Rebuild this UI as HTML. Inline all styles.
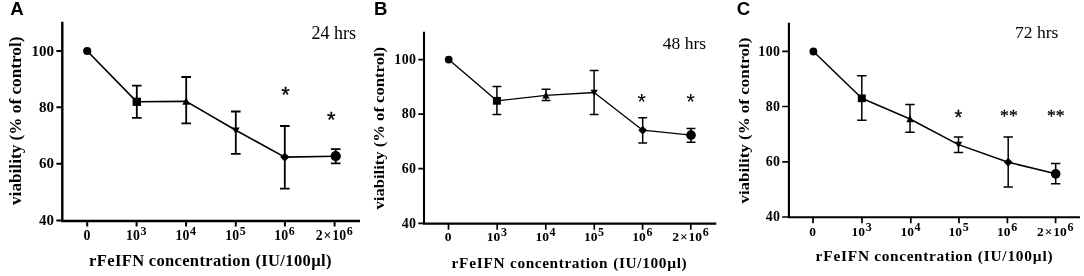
<!DOCTYPE html>
<html lang="en"><head><meta charset="utf-8"><title>rFeIFN viability figure</title>
<style>html,body{margin:0;padding:0;background:#fff}body{width:1084px;height:276px;overflow:hidden}svg{display:block}text{fill:#000}</style>
</head><body>
<svg width="1084" height="276" viewBox="0 0 1084 276">
<rect width="1084" height="276" fill="#fff"/>
<g>
<text x="10.2" y="14.9" font-family='"Liberation Sans", sans-serif' font-weight="700" font-size="18.6" fill="#000">A</text>
<path d="M62.3 21.7V221H360" fill="none" stroke="#000" stroke-width="2.4" stroke-linejoin="miter"/>
<path d="M56.4 51H62.3M56.4 107.3H62.3M56.4 163.7H62.3M56.4 220.6H62.3M87.2 221V226.5M136.6 221V226.5M186.1 221V226.5M235.8 221V226.5M284.9 221V226.5M334.6 221V226.5" fill="none" stroke="#000" stroke-width="2.0"/>
<text x="53.9" y="55.7" letter-spacing="0" text-anchor="end" font-family='"Liberation Serif", serif' font-weight="700" font-size="15">100</text>
<text x="53.9" y="112" letter-spacing="0" text-anchor="end" font-family='"Liberation Serif", serif' font-weight="700" font-size="15">80</text>
<text x="53.9" y="168.4" letter-spacing="0" text-anchor="end" font-family='"Liberation Serif", serif' font-weight="700" font-size="15">60</text>
<text x="53.9" y="225.3" letter-spacing="0" text-anchor="end" font-family='"Liberation Serif", serif' font-weight="700" font-size="15">40</text>
<text x="86.9" y="239.5" text-anchor="middle" font-family='"Liberation Serif", serif' font-weight="700" font-size="13.8">0</text>
<text x="136.3" y="239.5" text-anchor="middle" font-family='"Liberation Serif", serif' font-weight="700" font-size="13.8">10<tspan dy="-4.9" dx="0.7" font-size="12">3</tspan></text>
<text x="185.8" y="239.5" text-anchor="middle" font-family='"Liberation Serif", serif' font-weight="700" font-size="13.8">10<tspan dy="-4.9" dx="0.7" font-size="12">4</tspan></text>
<text x="235.5" y="239.5" text-anchor="middle" font-family='"Liberation Serif", serif' font-weight="700" font-size="13.8">10<tspan dy="-4.9" dx="0.7" font-size="12">5</tspan></text>
<text x="284.6" y="239.5" text-anchor="middle" font-family='"Liberation Serif", serif' font-weight="700" font-size="13.8">10<tspan dy="-4.9" dx="0.7" font-size="12">6</tspan></text>
<text x="334.3" y="239.5" text-anchor="middle" font-family='"Liberation Serif", serif' font-weight="700" font-size="13.8">2<tspan dx="0.9">×</tspan><tspan dx="0.9">10</tspan><tspan dy="-4.9" dx="0.7" font-size="12">6</tspan></text>
<text transform="translate(88.9 265.6) scale(1.035 1)" textLength="53.53" lengthAdjust="spacing" font-family='"Liberation Serif", serif' font-weight="700" font-size="16">rFeIFN</text>
<text transform="translate(148.7 265.6) scale(1.035 1)" textLength="97.97" lengthAdjust="spacing" font-family='"Liberation Serif", serif' font-weight="700" font-size="16">concentration</text>
<text transform="translate(255.4 265.6) scale(1.035 1)" textLength="73.53" lengthAdjust="spacing" font-family='"Liberation Serif", serif' font-weight="700" font-size="16">(IU/100µl)</text>
<text transform="translate(20.8 120.8) rotate(-90)" text-anchor="middle" textLength="168.4" lengthAdjust="spacingAndGlyphs" font-family='"Liberation Serif", serif' font-weight="700" font-size="17.2">viability (% of control)</text>
<text x="311.5" y="38.9" font-family='"Liberation Serif", serif' font-size="18">24 hrs</text>
<text x="285.5" y="102.34" text-anchor="middle" font-family='"Liberation Sans", sans-serif' stroke="#000" stroke-width="0.3" font-size="22">*</text>
<text x="331.3" y="126.74" text-anchor="middle" font-family='"Liberation Sans", sans-serif' stroke="#000" stroke-width="0.3" font-size="22">*</text>
<path d="M87.2 51L136.8 101.8L186.2 101.4L235.8 130.3L284.8 157.1L335.7 156.2" fill="none" stroke="#000" stroke-width="1.65" stroke-linejoin="round"/>
<path d="M136.8 85.7V117.8M132 85.7H141.6M132 117.8H141.6M186.2 77V123.3M181.4 77H191M181.4 123.3H191M235.8 111.5V153.8M231 111.5H240.6M231 153.8H240.6M284.8 126V188.7M280 126H289.6M280 188.7H289.6M335.7 149.1V163.3M330.9 149.1H340.5M330.9 163.3H340.5" fill="none" stroke="#000" stroke-width="1.8"/>
<circle cx="87.2" cy="51" r="4.1"/>
<rect x="132.6" y="97.7" width="8.4" height="8.2"/>
<path d="M186.2 97.3L190 104.7H182.4Z"/>
<path d="M235.8 133.9L239.7 127.4H231.9Z"/>
<path d="M284.8 152.5L289.4 157.1L284.8 161.7L280.2 157.1Z"/>
<circle cx="335.7" cy="156.2" r="5.1"/>
</g>
<g>
<text x="374" y="14.8" font-family='"Liberation Sans", sans-serif' font-weight="700" font-size="18.6" fill="#000">B</text>
<path d="M424 31.7V223.6H716.3" fill="none" stroke="#000" stroke-width="2.1" stroke-linejoin="miter"/>
<path d="M418.3 59.6H424M418.3 114.1H424M418.3 168.7H424M418.3 223.3H424M448.5 223.6V229.8M497.2 223.6V229.8M545.8 223.6V229.8M594.3 223.6V229.8M642.6 223.6V229.8M690.8 223.6V229.8" fill="none" stroke="#000" stroke-width="1.7"/>
<text x="416.4" y="63.9" letter-spacing="0.4" text-anchor="end" font-family='"Liberation Serif", serif' font-weight="700" font-size="13.9">100</text>
<text x="416.4" y="118.4" letter-spacing="0.4" text-anchor="end" font-family='"Liberation Serif", serif' font-weight="700" font-size="13.9">80</text>
<text x="416.4" y="173" letter-spacing="0.4" text-anchor="end" font-family='"Liberation Serif", serif' font-weight="700" font-size="13.9">60</text>
<text x="416.4" y="227.6" letter-spacing="0.4" text-anchor="end" font-family='"Liberation Serif", serif' font-weight="700" font-size="13.9">40</text>
<text x="448.2" y="241.3" text-anchor="middle" font-family='"Liberation Serif", serif' font-weight="700" font-size="13.5">0</text>
<text x="496.9" y="241.3" text-anchor="middle" font-family='"Liberation Serif", serif' font-weight="700" font-size="13.5">10<tspan dy="-4.9" dx="0.7" font-size="12">3</tspan></text>
<text x="545.5" y="241.3" text-anchor="middle" font-family='"Liberation Serif", serif' font-weight="700" font-size="13.5">10<tspan dy="-4.9" dx="0.7" font-size="12">4</tspan></text>
<text x="594" y="241.3" text-anchor="middle" font-family='"Liberation Serif", serif' font-weight="700" font-size="13.5">10<tspan dy="-4.9" dx="0.7" font-size="12">5</tspan></text>
<text x="642.3" y="241.3" text-anchor="middle" font-family='"Liberation Serif", serif' font-weight="700" font-size="13.5">10<tspan dy="-4.9" dx="0.7" font-size="12">6</tspan></text>
<text x="690.5" y="241.3" text-anchor="middle" font-family='"Liberation Serif", serif' font-weight="700" font-size="13.5">2<tspan dx="0.9">×</tspan><tspan dx="0.9">10</tspan><tspan dy="-4.9" dx="0.7" font-size="12">6</tspan></text>
<text transform="translate(451.5 267.6) scale(1.06 1)" textLength="50.09" lengthAdjust="spacing" font-family='"Liberation Serif", serif' font-weight="700" font-size="14.5">rFeIFN</text>
<text transform="translate(510 267.6) scale(1.06 1)" textLength="91.98" lengthAdjust="spacing" font-family='"Liberation Serif", serif' font-weight="700" font-size="14.5">concentration</text>
<text transform="translate(613.2 267.6) scale(1.06 1)" textLength="69.34" lengthAdjust="spacing" font-family='"Liberation Serif", serif' font-weight="700" font-size="14.5">(IU/100µl)</text>
<text transform="translate(384.3 128.2) rotate(-90)" text-anchor="middle" textLength="162.6" lengthAdjust="spacingAndGlyphs" font-family='"Liberation Serif", serif' font-weight="700" font-size="15.3">viability (% of control)</text>
<text x="662.8" y="48.7" font-family='"Liberation Serif", serif' font-size="17.5">48 hrs</text>
<text x="641.7" y="109.48" text-anchor="middle" font-family='"Liberation Sans", sans-serif' stroke="#000" stroke-width="0.1" font-size="21.5">*</text>
<text x="690.7" y="109.48" text-anchor="middle" font-family='"Liberation Sans", sans-serif' stroke="#000" stroke-width="0.1" font-size="21.5">*</text>
<path d="M448.7 59.6L496.9 100.8L546 95.3L594.1 92.5L642.7 130.2L691 135.2" fill="none" stroke="#000" stroke-width="1.35" stroke-linejoin="round"/>
<path d="M496.9 86.4V114.6M492.5 86.4H501.3M492.5 114.6H501.3M546 89.3V100.4M541.6 89.3H550.4M541.6 100.4H550.4M594.1 70.4V114.5M589.7 70.4H598.5M589.7 114.5H598.5M642.7 117.8V142.9M638.3 117.8H647.1M638.3 142.9H647.1M691 128.5V142.3M686.6 128.5H695.4M686.6 142.3H695.4" fill="none" stroke="#000" stroke-width="1.5"/>
<circle cx="448.7" cy="59.6" r="3.89"/>
<rect x="492.91" y="96.91" width="7.98" height="7.79"/>
<path d="M546 91.41L549.61 98.44H542.39Z"/>
<path d="M594.1 95.92L597.81 89.75H590.39Z"/>
<path d="M642.7 125.83L647.07 130.2L642.7 134.57L638.33 130.2Z"/>
<circle cx="691" cy="135.2" r="4.84"/>
</g>
<g>
<text x="736.8" y="15.1" font-family='"Liberation Sans", sans-serif' font-weight="700" font-size="18.6" fill="#000">C</text>
<path d="M788.9 22.7V217.2H1080" fill="none" stroke="#000" stroke-width="2.1" stroke-linejoin="miter"/>
<path d="M782.2 51.3H788.9M782.2 106.5H788.9M782.2 161.8H788.9M782.2 217H788.9M813 217.2V223.3M862 217.2V223.3M910.8 217.2V223.3M959 217.2V223.3M1007.4 217.2V223.3M1055.6 217.2V223.3" fill="none" stroke="#000" stroke-width="1.7"/>
<text x="780.4" y="55.5" letter-spacing="0.4" text-anchor="end" font-family='"Liberation Serif", serif' font-weight="700" font-size="13.9">100</text>
<text x="780.4" y="110.7" letter-spacing="0.4" text-anchor="end" font-family='"Liberation Serif", serif' font-weight="700" font-size="13.9">80</text>
<text x="780.4" y="166" letter-spacing="0.4" text-anchor="end" font-family='"Liberation Serif", serif' font-weight="700" font-size="13.9">60</text>
<text x="780.4" y="221.2" letter-spacing="0.4" text-anchor="end" font-family='"Liberation Serif", serif' font-weight="700" font-size="13.9">40</text>
<text x="812.7" y="235.8" text-anchor="middle" font-family='"Liberation Serif", serif' font-weight="700" font-size="13.5">0</text>
<text x="861.7" y="235.8" text-anchor="middle" font-family='"Liberation Serif", serif' font-weight="700" font-size="13.5">10<tspan dy="-4.9" dx="0.7" font-size="12">3</tspan></text>
<text x="910.5" y="235.8" text-anchor="middle" font-family='"Liberation Serif", serif' font-weight="700" font-size="13.5">10<tspan dy="-4.9" dx="0.7" font-size="12">4</tspan></text>
<text x="958.7" y="235.8" text-anchor="middle" font-family='"Liberation Serif", serif' font-weight="700" font-size="13.5">10<tspan dy="-4.9" dx="0.7" font-size="12">5</tspan></text>
<text x="1007.1" y="235.8" text-anchor="middle" font-family='"Liberation Serif", serif' font-weight="700" font-size="13.5">10<tspan dy="-4.9" dx="0.7" font-size="12">6</tspan></text>
<text x="1055.3" y="235.8" text-anchor="middle" font-family='"Liberation Serif", serif' font-weight="700" font-size="13.5">2<tspan dx="0.9">×</tspan><tspan dx="0.9">10</tspan><tspan dy="-4.9" dx="0.7" font-size="12">6</tspan></text>
<text transform="translate(815.6 261) scale(1.06 1)" textLength="50.47" lengthAdjust="spacing" font-family='"Liberation Serif", serif' font-weight="700" font-size="14.5">rFeIFN</text>
<text transform="translate(874.3 261) scale(1.06 1)" textLength="92.36" lengthAdjust="spacing" font-family='"Liberation Serif", serif' font-weight="700" font-size="14.5">concentration</text>
<text transform="translate(977.8 261) scale(1.06 1)" textLength="70.57" lengthAdjust="spacing" font-family='"Liberation Serif", serif' font-weight="700" font-size="14.5">(IU/100µl)</text>
<text transform="translate(749.4 120.6) rotate(-90)" text-anchor="middle" textLength="166" lengthAdjust="spacingAndGlyphs" font-family='"Liberation Serif", serif' font-weight="700" font-size="15.4">viability (% of control)</text>
<text x="1015" y="38.3" font-family='"Liberation Serif", serif' font-size="17.5">72 hrs</text>
<text x="958.3" y="123.9" text-anchor="middle" font-family='"Liberation Sans", sans-serif' stroke="#000" stroke-width="0.3" font-size="20">*</text>
<text x="1008.9" y="121.3" text-anchor="middle" font-family='"Liberation Serif", serif' stroke="#000" stroke-width="0.3" font-size="17.7">**</text>
<text x="1055.8" y="121.3" text-anchor="middle" font-family='"Liberation Serif", serif' stroke="#000" stroke-width="0.3" font-size="17.7">**</text>
<path d="M813.4 51.5L861.8 98.3L910 119L958.5 144.6L1008.2 162.2L1055.7 173.8" fill="none" stroke="#000" stroke-width="1.5" stroke-linejoin="round"/>
<path d="M861.8 75.7V120.3M857.1 75.7H866.5M857.1 120.3H866.5M910 104.6V132.3M905.3 104.6H914.7M905.3 132.3H914.7M958.5 137.1V152.6M953.8 137.1H963.2M953.8 152.6H963.2M1008.2 137.1V186.9M1003.5 137.1H1012.9M1003.5 186.9H1012.9M1055.7 163.4V183.7M1051 163.4H1060.4M1051 183.7H1060.4" fill="none" stroke="#000" stroke-width="1.5"/>
<circle cx="813.4" cy="51.5" r="3.89"/>
<rect x="857.81" y="94.41" width="7.98" height="7.79"/>
<path d="M910 115.11L913.61 122.14H906.39Z"/>
<path d="M958.5 148.02L962.21 141.84H954.79Z"/>
<path d="M1008.2 157.83L1012.57 162.2L1008.2 166.57L1003.83 162.2Z"/>
<circle cx="1055.7" cy="173.8" r="4.84"/>
</g>
</svg>
</body></html>
